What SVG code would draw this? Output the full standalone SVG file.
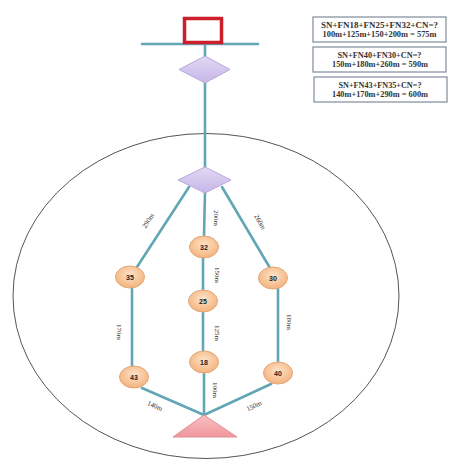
<svg xmlns="http://www.w3.org/2000/svg" width="474" height="474" viewBox="0 0 474 474">
<defs>
<radialGradient id="gNode" cx="50%" cy="40%" r="60%">
<stop offset="0" stop-color="#fde3c8"/>
<stop offset="1" stop-color="#f4b27c"/>
</radialGradient>
<linearGradient id="gDia" x1="0" y1="0" x2="0" y2="1">
<stop offset="0" stop-color="#e2d8f4"/>
<stop offset="1" stop-color="#c6b6e8"/>
</linearGradient>
<linearGradient id="gTri" x1="0" y1="0" x2="0" y2="1">
<stop offset="0" stop-color="#f8c0c2"/>
<stop offset="1" stop-color="#f0969c"/>
</linearGradient>
</defs>
<style>
.ln{stroke:#62a6b6;stroke-width:2.6;fill:none;stroke-linecap:round}
.nd{fill:url(#gNode);stroke:#e2a878;stroke-width:1}
.nt{font-family:"Liberation Sans",Arial,sans-serif;font-weight:bold;font-size:7px;fill:#222;text-anchor:middle}
.el{font-family:"Liberation Serif","Times New Roman",serif;font-size:7px;fill:#333;text-anchor:middle}
.dia{fill:url(#gDia);stroke:#b9a9dc;stroke-width:1}
.box{fill:#fff;stroke:#7e8c9c;stroke-width:1.2}
.bt{font-family:"Liberation Serif","Times New Roman",serif;font-weight:bold;font-size:8px;fill:#333;text-anchor:middle}
</style>
<rect width="474" height="474" fill="#fff"/>
<ellipse cx="206" cy="296" rx="193" ry="162.5" fill="none" stroke="#555" stroke-width="1"/>
<g id="connectors">
<line class="ln" x1="142" y1="44" x2="258" y2="44" stroke-width="2"/>
<line class="ln" x1="205" y1="44" x2="205" y2="56"/>
<line class="ln" x1="205" y1="83" x2="205" y2="168"/>
<line class="ln" x1="189" y1="187" x2="137" y2="267"/>
<line class="ln" x1="205" y1="192" x2="204" y2="236"/>
<line class="ln" x1="222" y1="187" x2="270" y2="268"/>
<line class="ln" x1="132" y1="288" x2="132" y2="366"/>
<line class="ln" x1="203" y1="258" x2="203" y2="290"/>
<line class="ln" x1="203" y1="312" x2="203" y2="351"/>
<line class="ln" x1="278" y1="289" x2="278" y2="362"/>
<line class="ln" x1="204" y1="373" x2="204" y2="415"/>
<line class="ln" x1="142" y1="388" x2="204" y2="415"/>
<line class="ln" x1="271" y1="384" x2="204" y2="415"/>
</g>
<g id="labels">
<text class="el" transform="translate(150,222) rotate(-57)">290m</text>
<text class="el" transform="translate(214,218) rotate(90)">200m</text>
<text class="el" transform="translate(258,223) rotate(60)">260m</text>
<text class="el" transform="translate(215,275) rotate(90)">150m</text>
<text class="el" transform="translate(117,332) rotate(90)">170m</text>
<text class="el" transform="translate(215,333) rotate(90)">125m</text>
<text class="el" transform="translate(287,322) rotate(90)">180m</text>
<text class="el" transform="translate(213,390) rotate(90)">100m</text>
<text class="el" transform="translate(154,408) rotate(24)">140m</text>
<text class="el" transform="translate(255,408) rotate(-25)">150m</text>
</g>
<g id="source">
<rect x="184.5" y="18.5" width="37" height="24" fill="#fff" stroke="#cc1f2b" stroke-width="3.5"/>
</g>
<g id="diamond1">
<polygon class="dia" points="205,56 230,69.5 205,83 179,69.5"/>
</g>
<g id="diamond2">
<polygon class="dia" points="205,167 231,180 205,193 178,180"/>
</g>
<g id="n32"><ellipse class="nd" cx="204" cy="247" rx="14.5" ry="11"/><text class="nt" x="204" y="249.5">32</text></g>
<g id="n35"><ellipse class="nd" cx="130" cy="277" rx="14.5" ry="11"/><text class="nt" x="130" y="279.5">35</text></g>
<g id="n30"><ellipse class="nd" cx="273" cy="278" rx="14.5" ry="11"/><text class="nt" x="273" y="280.5">30</text></g>
<g id="n25"><ellipse class="nd" cx="203" cy="301" rx="14.5" ry="11"/><text class="nt" x="203" y="303.5">25</text></g>
<g id="n18"><ellipse class="nd" cx="204" cy="362" rx="14.5" ry="11"/><text class="nt" x="204" y="364.5">18</text></g>
<g id="n43"><ellipse class="nd" cx="134" cy="377" rx="14.5" ry="11"/><text class="nt" x="134" y="379.5">43</text></g>
<g id="n40"><ellipse class="nd" cx="278" cy="373" rx="14.5" ry="11"/><text class="nt" x="278" y="375.5">40</text></g>
<g id="sink">
<polygon points="204,415 237,437 173,437" fill="url(#gTri)" stroke="#e38e96" stroke-width="1"/>
</g>
<g id="box1">
<rect class="box" x="313" y="17" width="133" height="25"/>
<text class="bt" x="379.5" y="28" textLength="117" lengthAdjust="spacingAndGlyphs">SN+FN18+FN25+FN32+CN=?</text>
<text class="bt" x="379.5" y="37" textLength="114" lengthAdjust="spacingAndGlyphs">100m+125m+150+200m = 575m</text>
</g>
<g id="box2">
<rect class="box" x="313" y="47" width="133" height="25"/>
<text class="bt" x="379.5" y="58" textLength="84" lengthAdjust="spacingAndGlyphs">SN+FN40+FN30+CN=?</text>
<text class="bt" x="380" y="67" textLength="96" lengthAdjust="spacingAndGlyphs">150m+180m+260m = 590m</text>
</g>
<g id="box3">
<rect class="box" x="314" y="77" width="133" height="25"/>
<text class="bt" x="380" y="88" textLength="83" lengthAdjust="spacingAndGlyphs">SN+FN43+FN35+CN=?</text>
<text class="bt" x="380" y="97" textLength="96" lengthAdjust="spacingAndGlyphs">140m+170m+290m = 600m</text>
</g>
</svg>
